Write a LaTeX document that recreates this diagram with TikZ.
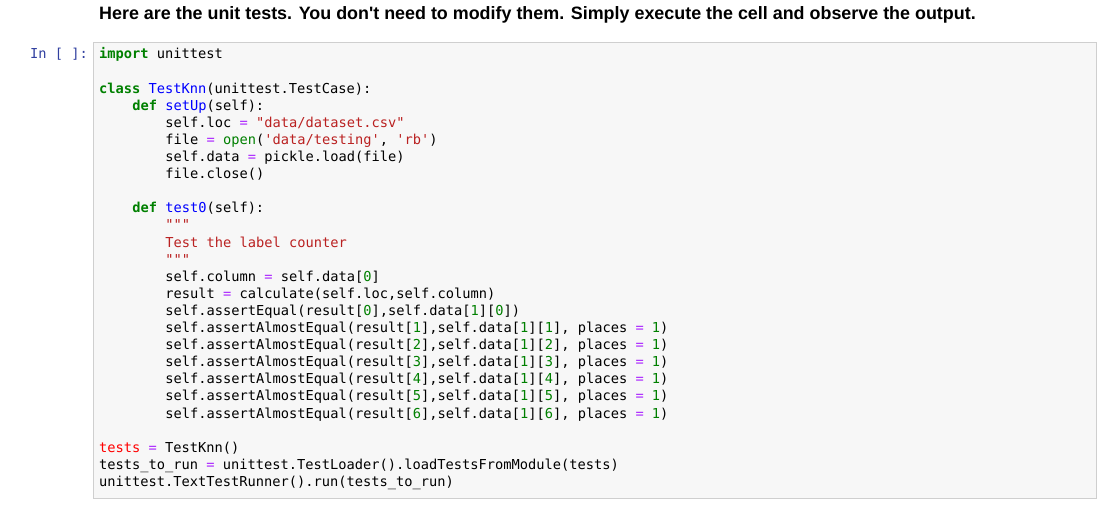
\documentclass[tikz,border=0pt]{standalone}
\usepackage{fontspec}
\setmainfont{Liberation Sans}
\setmonofont{DejaVu Sans Mono}
\usepackage{tikz}
\definecolor{kwgreen}{HTML}{008000}
\definecolor{nmblue}{HTML}{0000FF}
\definecolor{strred}{HTML}{BA2121}
\definecolor{oppurple}{HTML}{AA22FF}
\definecolor{promptblue}{HTML}{303F9F}
\definecolor{cellborder}{HTML}{CFCFCF}
\definecolor{cellfill}{HTML}{F7F7F7}
\newcommand{\kwd}[1]{\textcolor{kwgreen}{\bfseries #1}}
\newcommand{\fnm}[1]{\textcolor{nmblue}{#1}}
\newcommand{\strg}[1]{\textcolor{strred}{#1}}
\newcommand{\opr}[1]{\textcolor{oppurple}{#1}}
\newcommand{\numb}[1]{\textcolor{kwgreen}{#1}}
\newcommand{\varred}[1]{\textcolor{red}{#1}}
\tikzstyle{code}=[anchor=base west,inner sep=0pt,font=\ttfamily\fontsize{13.7}{16}\selectfont]
\newcommand{\codeline}[4]{\node [style=code] (#1) at ({99+8.27*(#3)}, {452-17.1*(#2)}) {#4};}
\begin{document}
\begin{tikzpicture}[x=1pt,y=1pt]
	\useasboundingbox (0,0) rectangle (1114,511);
	\node [anchor=base west,inner sep=0pt,font=\bfseries\fontsize{17.9}{22}\selectfont] (head) at (99, 491) {Here are the unit tests. You don\textquotesingle t need to modify them. Simply execute the cell and observe the output.};
	\draw [cellborder, fill=cellfill] (93.5, 13) rectangle (1096, 469);
	\node [style=code, anchor=base east, text=promptblue] (prompt) at (88, 452) {In [ ]:};
	\codeline{l0}{0}{0}{\kwd{import} unittest}
	\codeline{l2}{2}{0}{\kwd{class} \fnm{TestKnn}(unittest.TestCase):}
	\codeline{l3}{3}{4}{\kwd{def} \fnm{setUp}(self):}
	\codeline{l4}{4}{8}{self.loc \opr{=} \strg{"data/dataset.csv"}}
	\codeline{l5}{5}{8}{file \opr{=} \textcolor{kwgreen}{open}(\strg{'data/testing'}, \strg{'rb'})}
	\codeline{l6}{6}{8}{self.data \opr{=} pickle.load(file)}
	\codeline{l7}{7}{8}{file.close()}
	\codeline{l9}{9}{4}{\kwd{def} \fnm{test0}(self):}
	\codeline{l10}{10}{8}{\strg{"""}}
	\codeline{l11}{11}{8}{\strg{Test the label counter}}
	\codeline{l12}{12}{8}{\strg{"""}}
	\codeline{l13}{13}{8}{self.column \opr{=} self.data[\numb{0}]}
	\codeline{l14}{14}{8}{result \opr{=} calculate(self.loc,self.column)}
	\codeline{l15}{15}{8}{self.assertEqual(result[\numb{0}],self.data[\numb{1}][\numb{0}])}
	\foreach \i in {1,...,6}
		\codeline{a\i}{15+\i}{8}{self.assertAlmostEqual(result[\numb{\i}],self.data[\numb{1}][\numb{\i}], places \opr{=} \numb{1})};
	\codeline{l23}{23}{0}{\varred{tests} \opr{=} TestKnn()}
	\codeline{l24}{24}{0}{tests\_to\_run \opr{=} unittest.TestLoader().loadTestsFromModule(tests)}
	\codeline{l25}{25}{0}{unittest.TextTestRunner().run(tests\_to\_run)}
\end{tikzpicture}
\end{document}
